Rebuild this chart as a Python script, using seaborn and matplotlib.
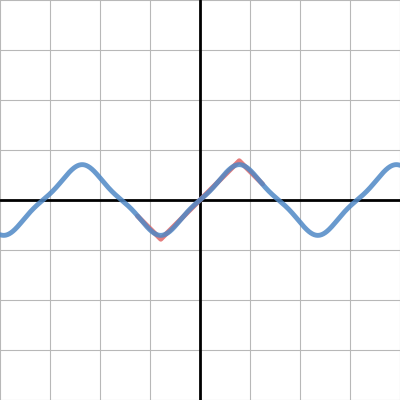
import numpy as np
import pandas as pd
import matplotlib.pyplot as plt
import seaborn as sns

# Fourier series of a triangle wave (period pi, amplitude pi/4)
HARMONICS = [1, 3]
RED_RANGE = [-1.25, 1.25]
X_LIMITS = [-4, 4]
Y_LIMITS = [-4, 4]

sns.set_style("white")

x = np.linspace(X_LIMITS[0], X_LIMITS[1], 2000)
blue = sum((-1) ** (n // 2) * np.sin(2 * n * x) / n**2 for n in HARMONICS) * 2 / np.pi
xr = np.linspace(RED_RANGE[0], RED_RANGE[1], 1000)
red = np.arcsin(np.sin(2 * xr)) / 2

fig, ax = plt.subplots(figsize=(4, 4), dpi=100)
fig.subplots_adjust(0, 0, 1, 1)

for v in np.arange(-4, 5):
    ax.axvline(v, color="#b8b8b8", lw=0.8, zorder=0)
    ax.axhline(v, color="#b8b8b8", lw=0.8, zorder=0)
ax.axvline(0, color="black", lw=2, zorder=1)
ax.axhline(0, color="black", lw=2, zorder=1)

sns.lineplot(data=pd.DataFrame({"x": xr, "y": red}), x="x", y="y", ax=ax,
             color="#e06666", lw=3.5, alpha=0.85, sort=False)
sns.lineplot(data=pd.DataFrame({"x": x, "y": blue}), x="x", y="y", ax=ax,
             color="#4f88c6", lw=3.5, alpha=0.85, sort=False)

ax.set_xlim(X_LIMITS)
ax.set_ylim(Y_LIMITS)
ax.set_xticks([])
ax.set_yticks([])
ax.set_xlabel("")
ax.set_ylabel("")
for s in ax.spines.values():
    s.set_visible(False)

fig.savefig("out.png", dpi=100)
